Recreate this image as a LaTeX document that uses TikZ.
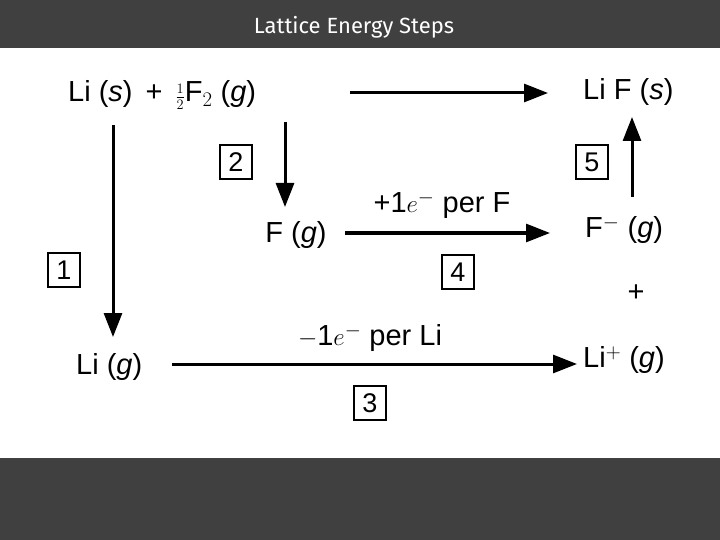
\documentclass[tikz,border=0pt]{standalone}
\usepackage{fontspec}
\setmainfont{Liberation Sans}
\newfontfamily\titlefont{Fira Sans}
\usetikzlibrary{arrows.meta}
\tikzset{
  txt/.style={inner sep=0pt,font=\fontsize{29}{33}\selectfont},
  num/.style={draw,line width=2pt,inner sep=3pt,minimum width=32pt,minimum height=34pt,font=\fontsize{27}{31}\selectfont},
  arr/.style={line width=3pt,-{Triangle[length=24pt,width=18pt]}}
}
\begin{document}
\begin{tikzpicture}[x=1pt,y=-1pt]
\useasboundingbox (0,0) rectangle (720,540);
\fill[black!75] (0,0) rectangle (720,48);
\fill[black!75] (0,458) rectangle (720,540);
\node[white,font=\titlefont\fontsize{22}{26}\selectfont] (title) at (354,27) {Lattice Energy Steps};
\node[txt,anchor=west] (lis) at (68,95) {Li (\textit{s}) \,+\, {\fontsize{22}{24}\selectfont$\frac{1}{2}$}F$_2$ (\textit{g})};
\node[txt,anchor=west] (lif) at (583,92) {Li F (\textit{s})};
\node[txt] (fg) at (296,235) {F (\textit{g})};
\node[txt,anchor=west] (fm) at (585,230) {F$^{-}$ (\textit{g})};
\node[txt] (plus) at (636,293) {+};
\node[txt,anchor=west] (lig) at (76,367) {Li (\textit{g})};
\node[txt,anchor=west] (lip) at (583,360) {Li$^{+}$ (\textit{g})};
\node[num] (b1) at (64,270) {1};
\node[num] (b2) at (236,162) {2};
\node[num] (b3) at (370,403) {3};
\node[num] (b4) at (458,272) {4};
\node[num] (b5) at (592,162) {5};
\coordinate (a1s) at (113,125); \coordinate (a1e) at (113,337);
\draw[arr] (a1s) -- (a1e);
\coordinate (a2s) at (285,122); \coordinate (a2e) at (285,207);
\draw[arr] (a2s) -- (a2e);
\coordinate (t1s) at (350,93); \coordinate (t1e) at (548,93);
\draw[arr] (t1s) -- (t1e);
\coordinate (t4s) at (345,233); \coordinate (t4e) at (550,233);
\draw[arr] (t4s) -- (t4e);
\node[txt] (l4) at (442,205) {+1$e^{-}$ per F};
\coordinate (a5s) at (632,197); \coordinate (a5e) at (632,117);
\draw[arr] (a5s) -- (a5e);
\coordinate (t3s) at (172,364); \coordinate (t3e) at (577,364);
\draw[arr] (t3s) -- (t3e);
\node[txt] (l3) at (370,338) {$-$1$e^{-}$ per Li};
\end{tikzpicture}
\end{document}
